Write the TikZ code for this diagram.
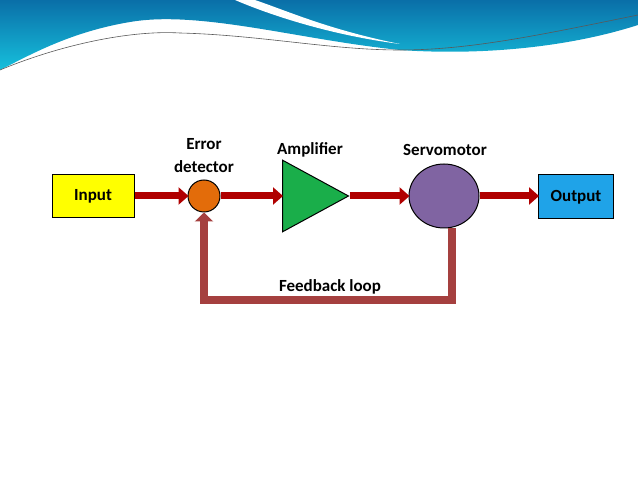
\documentclass[tikz,border=0pt]{standalone}
\usepackage{fontspec}
\setmainfont{Carlito}
\usetikzlibrary{arrows.meta,shapes.geometric}
\definecolor{inyellow}{HTML}{FFFF00}
\definecolor{outblue}{HTML}{1FA3E8}
\definecolor{errorange}{HTML}{E36C0A}
\definecolor{ampgreen}{HTML}{1AAE4A}
\definecolor{servopurple}{HTML}{8064A2}
\definecolor{flowred}{HTML}{B00000}
\definecolor{fbred}{HTML}{A5403F}
\definecolor{bannerdark}{HTML}{0A6FA8}
\definecolor{bannerlight}{HTML}{16C0DC}
\begin{document}
\begin{tikzpicture}[x=1pt,y=-1pt,
  lbl/.style={font=\bfseries\fontsize{17}{19}\selectfont},
  blk/.style={draw=black, line width=1pt, lbl, inner sep=0pt},
  flow/.style={line width=7pt, flowred, -{Triangle[length=10pt,width=17pt]}, shorten >=-1pt},
  fb/.style={line width=8pt, fbred, -{Triangle[length=9pt,width=18pt]}}
]
\useasboundingbox (0,0) rectangle (638,478);
% banner
\shade[top color=bannerdark, bottom color=bannerlight]
  (0,0) -- (638,0) -- (638,25) .. controls (560,50) and (470,55) .. (400,50)
  .. controls (300,40) and (200,10) .. (130,22) .. controls (70,32) and (30,55) .. (0,70) -- cycle;
\fill[white] (235,0) .. controls (270,15) and (330,35) .. (400,44) .. controls (330,30) and (290,12) .. (255,0) -- cycle;
\draw[gray!70!black, line width=0.6pt] (0,70) .. controls (60,45) and (130,30) .. (180,33) .. controls (260,35) and (330,50) .. (400,50) .. controls (470,50) and (540,35) .. (638,15);

% blocks
\node[blk, fill=inyellow, minimum width=82pt, minimum height=43pt] (in) at (93,196) {Input};
\node[blk, circle, fill=errorange, minimum size=32pt] (err) at (204,196) {};
\node[blk, isosceles triangle, isosceles triangle apex angle=57, fill=ampgreen, minimum height=66pt, minimum width=63pt, anchor=west] (amp) at (282,196) {};
\node[blk, ellipse, fill=servopurple, minimum width=70pt, minimum height=64pt] (servo) at (444,196) {};
\node[blk, fill=outblue, minimum width=75pt, minimum height=44pt] (out) at (576,197) {Output};

% labels
\node[lbl] (errl1) at (204,144) {Error};
\node[lbl] (errl2) at (204,167) {detector};
\node[lbl] (ampl) at (310,150) {Amplifier};
\node[lbl] (servol) at (445,150) {Servomotor};
\node[lbl] (fbl) at (330,287) {Feedback loop};

% connectors
\draw[flow] (in.east) -- (err.west);
\draw[flow] (err.east) -- (amp.west);
\draw[flow] (amp.apex) -- (servo.west);
\draw[flow] (servo.east) -- (out.west |- servo.east);
\coordinate (c1) at (452,300);
\coordinate (c2) at (204,300);
\draw[fb] (servo.south -| c1) -- (c1) -- (c2) -- (err.south);
\end{tikzpicture}
\end{document}
